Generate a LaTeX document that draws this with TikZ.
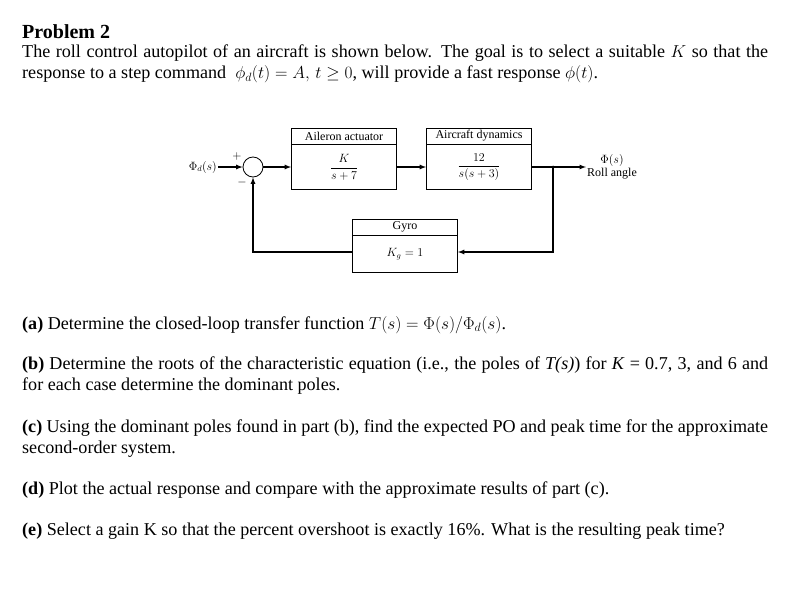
\documentclass[tikz,border=0pt]{standalone}
\usepackage{amsmath}
\usepackage{fontspec}
\setmainfont{Liberation Serif}
\usetikzlibrary{positioning}
\tikzset{
  para/.style={anchor=north west,inner sep=0pt,text width=746pt,align=justify,
    font=\fontsize{18.1}{21}\selectfont},
  blk/.style={draw,thick,minimum width=105pt,minimum height=45pt,inner sep=0pt,
    font=\fontsize{12}{13}\selectfont},
  ttl/.style={draw,thick,minimum width=105pt,minimum height=16pt,inner sep=0pt,
    font=\fontsize{12}{13}\selectfont},
  sig/.style={line width=1.2pt,->,>=latex},
  lbl/.style={font=\fontsize{12}{13}\selectfont,inner sep=1pt}
}
\begin{document}
\begin{tikzpicture}[x=1pt,y=-1pt]
\useasboundingbox (0,0) rectangle (788,605);
% text
\node[para,font=\fontsize{20}{22}\selectfont\bfseries] (head) at (22,24) {Problem 2};
\node[para] (intro) at (22,45) {The roll control autopilot of an aircraft is shown below. The goal is to select a suitable $K$ so that the response to a step command\ \ $\phi_d(t)=A,\,t\geq0$, will provide a fast response $\phi(t)$.};
\node[para] (qa) at (22,316) {\textbf{(a)} Determine the closed-loop transfer function $T(s)=\Phi(s)/\Phi_d(s)$.};
\node[para] (qb) at (22,357) {\textbf{(b)} Determine the roots of the characteristic equation (i.e., the poles of \textit{T(s)}) for \textit{K} = 0.7, 3, and 6 and for each case determine the dominant poles.};
\node[para] (qc) at (22,420) {\textbf{(c)} Using the dominant poles found in part (b), find the expected PO and peak time for the approximate second-order system.};
\node[para] (qd) at (22,482) {\textbf{(d)} Plot the actual response and compare with the approximate results of part (c).};
\node[para] (qe) at (22,523) {\textbf{(e)} Select a gain K so that the percent overshoot is exactly 16\%. What is the resulting peak time?};
% blocks
\node[ttl] (actT) at (344,136) {Aileron actuator};
\node[blk,below=0pt of actT] (act) {$\dfrac{K}{s+7}$};
\node[ttl] (dynT) at (479,136) {Aircraft dynamics};
\node[blk,below=0pt of dynT] (dyn) {$\dfrac{12}{s(s+3)}$};
\node[ttl] (gyrT) at (405,227) {Gyro};
\node[blk,minimum height=37pt,below=0pt of gyrT] (gyr) {$K_g=1$};
\node[draw,thick,circle,minimum size=20pt,inner sep=0pt] (sum) at (253,167) {};
\node[lbl,anchor=east] (in) at (218,167) {$\Phi_d(s)$};
\node[lbl,align=center] (out) at (612,167) {$\Phi(s)$\\Roll angle};
\coordinate (br) at (553,167);
\coordinate (fbr) at (553,252);
\coordinate (fbl) at (253,252);
\node[lbl] (plus) at (237,156) {$+$};
\node[lbl] (minus) at (242,182) {$-$};
% signals
\draw[sig] (in) -- (sum);
\draw[sig] (sum) -- (sum -| act.west);
\draw[sig] (act.east |- sum) -- (dyn.west |- sum);
\draw[sig] (dyn.east |- sum) -- (out.west);
\fill (br) circle (1.5pt);
\draw[sig] (br) -- (fbr) -- (gyr.east |- fbr);
\draw[sig] (gyr.west |- fbl) -- (fbl) -- (sum);
\end{tikzpicture}
\end{document}
